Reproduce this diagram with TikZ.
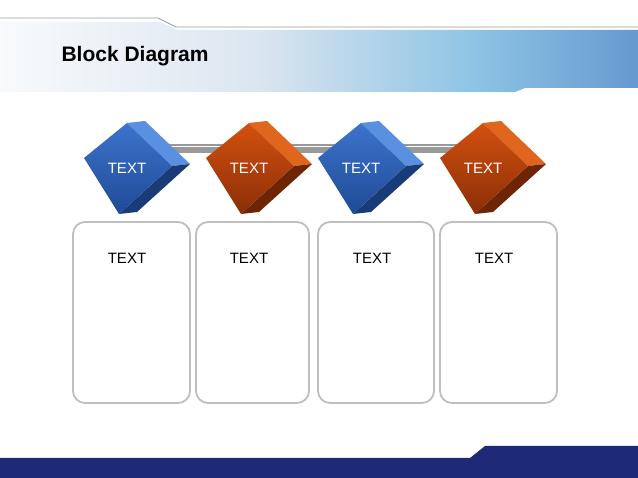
\documentclass[tikz,border=0pt]{standalone}
\usepackage{fontspec}
\setmainfont{Liberation Sans}
\definecolor{cblue}{HTML}{3C74CC}
\definecolor{cblued}{HTML}{1F4A96}
\definecolor{cbluet}{HTML}{5A90E0}
\definecolor{corg}{HTML}{D4500F}
\definecolor{corgd}{HTML}{8A2E08}
\definecolor{corgt}{HTML}{E0661E}
\definecolor{hdr0}{HTML}{DCE6F0}
\definecolor{hdr1}{HTML}{8EC4E4}
\definecolor{hdr2}{HTML}{1848A8}
\definecolor{navy}{HTML}{1C2A78}
\pgfdeclarehorizontalshading{hdrshade}{100bp}{color(0bp)=(white); color(20bp)=(white); color(45bp)=(hdr0); color(62bp)=(hdr1); color(100bp)=(hdr2)}
\begin{document}
\begin{tikzpicture}[x=1pt,y=-1pt,
  lbl/.style={font=\fontsize{15}{17}\selectfont,text=white},
  blbl/.style={font=\fontsize{15}{17}\selectfont,text=black},
  box/.style={draw=black!25,line width=1.8pt,rounded corners=12pt},
  rod/.style={line width=9pt,draw=black!40}]
\useasboundingbox (0,0) rectangle (638,478);
\fill[white] (0,0) rectangle (638,478);
% header
\shade[shading=hdrshade]
 (0,22) -- (160,22) -- (178,30) -- (638,30) -- (638,88) -- (525,88) -- (515,92) -- (0,92) -- cycle;
\draw[black!40,line width=0.8pt] (0,18) -- (158,18) -- (176,27) -- (638,27);
\node[anchor=west,font=\bfseries\fontsize{21}{24}\selectfont] (title) at (58,56) {Block Diagram};
% bottom bar
\fill[navy] (0,458) -- (470,458) -- (485,446) -- (638,446) -- (638,478) -- (0,478) -- cycle;
% rods
\foreach \a/\b in {160/230,280/345,395/460}{
  \draw[rod] (\a,149) -- (\b,149);
  \draw[white,line width=1.5pt] (\a,146.5) -- (\b,146.5);}
\newcommand{\cubeat}[5]{%
 \begin{scope}[shift={(#1,168)}]
  \fill[#3] (0,-45) -- (18,-47) -- (63,-4) -- (45,-2) -- cycle;
  \fill[#4] (45,-2) -- (63,-4) -- (10,44) -- (-8,46) -- cycle;
  \shade[top color=#5,bottom color=#2] (-43,-10) -- (0,-45) -- (45,-2) -- (-8,46) -- cycle;
 \end{scope}}
\cubeat{127}{cblued}{cbluet}{cblued!80!black}{cblue}
\cubeat{249}{corgd}{corgt}{corgd!80!black}{corg}
\cubeat{361}{cblued}{cbluet}{cblued!80!black}{cblue}
\cubeat{483}{corgd}{corgt}{corgd!80!black}{corg}
\node[lbl] (c1) at (127,168) {TEXT};
\node[lbl] (c2) at (249,168) {TEXT};
\node[lbl] (c3) at (361,168) {TEXT};
\node[lbl] (c4) at (483,168) {TEXT};
% boxes
\foreach \x/\w in {73/117,196/113,318/116,440/117}{
  \draw[box] (\x,222) rectangle ++(\w,181);}
\node[blbl] (b1) at (127,258) {TEXT};
\node[blbl] (b2) at (249,258) {TEXT};
\node[blbl] (b3) at (372,258) {TEXT};
\node[blbl] (b4) at (494,258) {TEXT};
\end{tikzpicture}
\end{document}
